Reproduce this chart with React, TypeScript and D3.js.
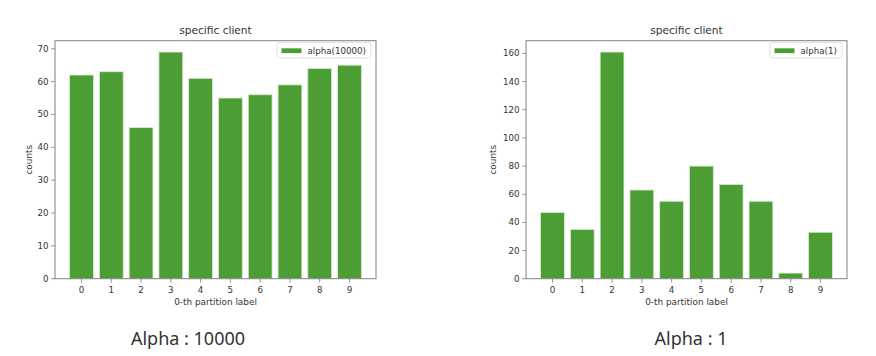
import React from "react";
import * as d3 from "d3";

const categories = ["0", "1", "2", "3", "4", "5", "6", "7", "8", "9"];
const countsAlpha10000 = [62, 63, 46, 69, 61, 55, 56, 59, 64, 65];
const countsAlpha1 = [47, 35, 161, 63, 55, 80, 67, 55, 4, 33];
const ticksAlpha10000 = [0, 10, 20, 30, 40, 50, 60, 70];
const ticksAlpha1 = [0, 20, 40, 60, 80, 100, 120, 140, 160];
const legendAlpha10000 = "alpha(10000)";
const legendAlpha1 = "alpha(1)";
const captionAlpha10000 = "Alpha : 10000";
const captionAlpha1 = "Alpha : 1";
const chartTitle = "specific client";
const xLabel = "0-th partition label";
const yLabel = "counts";

const BAR = "#4c9e34";
const MPL = "DejaVu Sans, sans-serif";
const FS = 8.7;

type ChartProps = {
  x0: number;
  values: number[];
  ticks: number[];
  legend: string;
  legendWidth: number;
  caption: string;
  captionX: number;
  yLabelOffset: number;
};

function Chart({ x0, values, ticks, legend, legendWidth, caption, captionX, yLabelOffset }: ChartProps) {
  const W = 321;
  const top = 40.7;
  const bottom = 278.7;
  const x1 = x0 + W;
  const n = values.length;
  const span = n - 1 + 0.8;
  const xs = d3.scaleLinear().domain([-0.4 - 0.05 * span, n - 1 + 0.4 + 0.05 * span]).range([x0, x1]);
  const ymax = (d3.max(values) as number) * 1.05;
  const ys = d3.scaleLinear().domain([0, ymax]).range([bottom, top]);
  const bw = xs(0.8) - xs(0);
  const legX = x1 - 5 - legendWidth;
  return (
    <g>
      {values.map((v, i) => (
        <rect
          key={i}
          x={xs(i) - bw / 2}
          y={ys(v)}
          width={bw}
          height={ys(0) - ys(v)}
          fill={BAR}
          stroke="#d8ecd2"
          strokeWidth={0.8}
        />
      ))}
      <rect x={x0} y={top} width={W} height={bottom - top} fill="none" stroke="#808080" strokeWidth={1} />
      {ticks.map((t) => (
        <g key={t}>
          <line x1={x0 - 4} x2={x0} y1={ys(t)} y2={ys(t)} stroke="#808080" strokeWidth={0.8} />
          <text x={x0 - 6.5} y={ys(t)} dy="0.35em" textAnchor="end" fontSize={FS} fill="#333" fontFamily={MPL}>
            {t}
          </text>
        </g>
      ))}
      {categories.map((c, i) => (
        <g key={c}>
          <line x1={xs(i)} x2={xs(i)} y1={bottom} y2={bottom + 4} stroke="#808080" strokeWidth={0.8} />
          <text x={xs(i)} y={bottom + 10.8} dy="0.35em" textAnchor="middle" fontSize={FS} fill="#333" fontFamily={MPL}>
            {c}
          </text>
        </g>
      ))}
      <text x={(x0 + x1) / 2} y={30.5} dy="0.35em" textAnchor="middle" fontSize={10.6} fill="#333" fontFamily={MPL}>
        {chartTitle}
      </text>
      <text x={(x0 + x1) / 2} y={301.5} dy="0.35em" textAnchor="middle" fontSize={8.9} fill="#333" fontFamily={MPL}>
        {xLabel}
      </text>
      <text
        transform={`translate(${x0 - yLabelOffset},${(top + bottom) / 2}) rotate(-90)`}
        dy="0.35em"
        textAnchor="middle"
        fontSize={8.9}
        fill="#333"
        fontFamily={MPL}
      >
        {yLabel}
      </text>
      <rect x={legX} y={42.5} width={legendWidth} height={15.5} rx={2} fill="#fff" fillOpacity={0.85} stroke="#d8d8d8" strokeWidth={0.8} />
      <rect x={legX + 4.5} y={48.3} width={20} height={4.8} fill={BAR} />
      <text x={legX + 30.5} y={50.5} dy="0.35em" fontSize={FS} fill="#333" fontFamily={MPL}>
        {legend}
      </text>
      <text x={captionX} y={339} dy="0.35em" textAnchor="middle" fontSize={18} fill="#333" fontFamily="'Noto Sans', 'Open Sans', sans-serif">
        {caption}
      </text>
    </g>
  );
}

export default function App() {
  return (
    <svg width={876} height={356} style={{ position: "absolute", left: 0, top: 0, background: "#fff" }}>
      <rect width={876} height={356} fill="#fff" />
      <Chart x0={55} values={countsAlpha10000} ticks={ticksAlpha10000} legend={legendAlpha10000} legendWidth={94} caption={captionAlpha10000} captionX={188} yLabelOffset={26} />
      <Chart x0={526} values={countsAlpha1} ticks={ticksAlpha1} legend={legendAlpha1} legendWidth={72} caption={captionAlpha1} captionX={691} yLabelOffset={33} />
    </svg>
  );
}
